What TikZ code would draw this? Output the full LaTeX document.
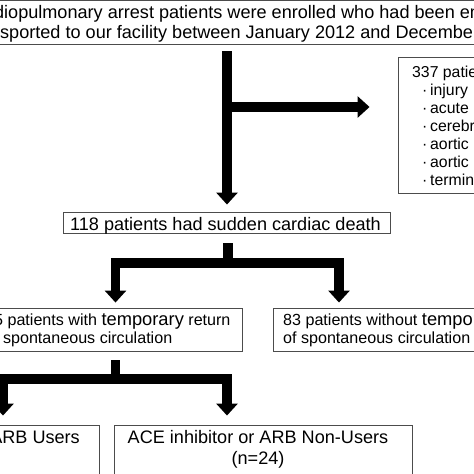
\documentclass[tikz,border=0pt]{standalone}
\usepackage{fontspec}
\setmainfont{Liberation Sans}
\usetikzlibrary{arrows.meta}
\newcommand{\bigw}[1]{{\fontsize{18.3}{18}\selectfont #1}}
\begin{document}
\begin{tikzpicture}[x=1pt,y=-1pt,
  box/.style={draw=black!70, line width=0.9pt, rectangle, inner sep=0pt},
  txt/.style={inner sep=0pt, anchor=base west, font=\fontsize{18.1}{20}\selectfont},
  txts/.style={inner sep=0pt, anchor=base west, font=\fontsize{16.1}{18}\selectfont},
  txtx/.style={inner sep=0pt, anchor=base west, font=\fontsize{15.8}{17}\selectfont},
  txte/.style={inner sep=0pt, anchor=base east, font=\fontsize{18.1}{20}\selectfont},
  txtc/.style={inner sep=0pt, anchor=base, font=\fontsize{18.1}{20}\selectfont},
  blk/.style={line width=9.5pt, line join=miter, -{Triangle[width=21pt,length=12pt]}},
  bar/.style={line width=9.5pt, line join=miter}]
\useasboundingbox (0,0) rectangle (474,474);
\clip (0,0) rectangle (474,474);

% boxes
\node[box, minimum width=560pt, minimum height=44pt] (top) at (237,22.5) {};
\node[box, minimum width=200pt, minimum height=136pt] (excl) at (498,125) {};
\node[box, minimum width=327pt, minimum height=21pt] (mid) at (226.5,222.5) {};
\node[box, minimum width=269pt, minimum height=43pt] (lbox) at (107.5,329.5) {};
\node[box, minimum width=269pt, minimum height=43pt] (rbox) at (407.5,329.5) {};
\node[box, minimum width=299pt, minimum height=60pt] (bl) at (-50.5,455) {};
\node[box, minimum width=298pt, minimum height=60pt] (br) at (263,455) {};

% texts
\node[txt] (t1) at (4,18) {\llap{Card}iopulmonary arrest patients were enrolled who had been emergently};
\node[txt] (t2) at (0,38.5) {\llap{tran}sported to our facility between January 2012 and December 2017};
\node[txtx] (e0) at (412,77) {337 patients};
\node[txtx] (e1) at (422,95) {\makebox[8pt][l]{·}injury};
\node[txtx] (e2) at (422,113) {\makebox[8pt][l]{·}acute};
\node[txtx] (e3) at (422,131) {\makebox[8pt][l]{·}cerebral};
\node[txtx] (e4) at (422,149) {\makebox[8pt][l]{·}aortic};
\node[txtx] (e5) at (422,167) {\makebox[8pt][l]{·}aortic};
\node[txtx] (e6) at (422,185) {\makebox[8pt][l]{·}terminal};
\node[txtc] (m1) at (225.5,230) {118 patients had sudden cardiac death};
\node[txts] (l1) at (-15,325.5) {35 patients with \bigw{temporary} return};
\node[txts] (l2) at (-15,343) {of spontaneous circulation};
\node[txts] (r1) at (283,325.5) {83 patients without \bigw{temporary} return};
\node[txts] (r2) at (283,343) {of spontaneous circulation};
\node[txte] (bl1) at (80,443) {ACE inhibitor or ARB Users};
\node[txtc] (br1) at (258,443) {ACE inhibitor or ARB Non-Users};
\node[txtc] (br2) at (258,464) {(n=24)};

% connectors
\coordinate (c1) at (227,0);
\coordinate (j1) at (227,107);
\draw[blk, shorten <=6.5pt, shorten >=7pt] (c1 |- top.south) -- (c1 |- mid.north);
\draw[blk, shorten >=28pt] (j1) -- (j1 -| excl.west);

\coordinate (j2) at (228,263);
\coordinate (c2l) at (115.5,0);
\coordinate (c2r) at (339,0);
\draw[bar, shorten <=10pt] (j2 |- mid.south) -- (j2);
\draw[blk, shorten >=5pt] (j2) -| (c2l |- lbox.north);
\draw[blk, shorten >=5pt] (j2) -| (c2r |- rbox.north);

\coordinate (j3) at (115.5,379);
\coordinate (c3l) at (3,0);
\coordinate (c3r) at (227,0);
\draw[bar, shorten <=9pt] (c2l |- lbox.south) -- (j3);
\draw[blk, shorten >=9pt] (j3) -| (c3l |- bl.north);
\draw[blk, shorten >=9pt] (j3) -| (c3r |- br.north);
\end{tikzpicture}
\end{document}
